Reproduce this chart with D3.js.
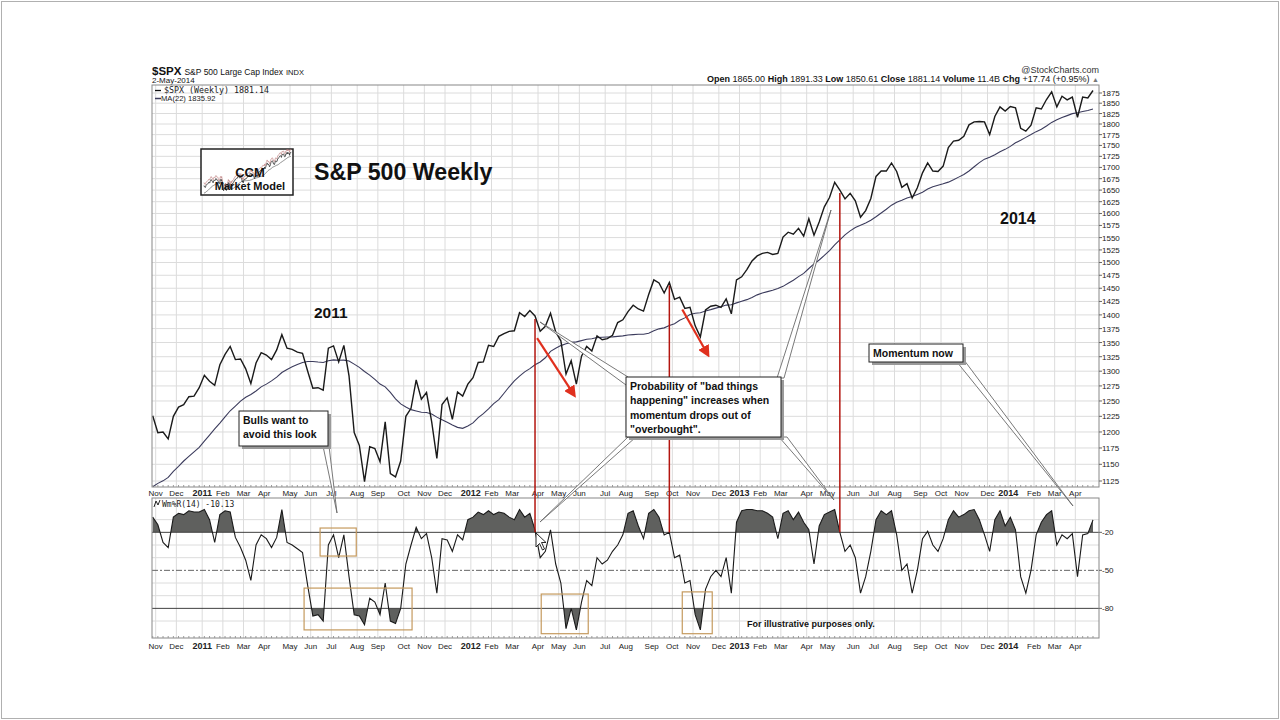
<!DOCTYPE html>
<html>
<head>
<meta charset="utf-8">
<script src="https://cdn.jsdelivr.net/npm/d3@7"></script>
<style>
  html, body { margin: 0; padding: 0; background: #fff; }
  svg { display: block; font-family: "Liberation Sans", Arial, sans-serif; }
</style>
</head>
<body>
<svg id="chart" width="1280" height="720"></svg>
<script>
// --- DATA (weekly, 5-Nov-2010 .. 2-May-2014) ---
const closes = [
  1226,1199,1200,1189,1225,1240,1244,1257,1258,1272,1293,1283,1276,1311,1329,1343,1320,1321,1304,1279,
  1314,1332,1328,1320,1337,1364,1340,1338,1333,1331,1300,1271,1272,1268,1340,1344,1316,1345,1292,1199,
  1179,1124,1177,1174,1154,1216,1136,1131,1155,1225,1238,1285,1253,1264,1216,1159,1244,1255,1220,1265,
  1258,1278,1289,1315,1316,1345,1343,1361,1366,1370,1371,1404,1397,1408,1398,1370,1379,1403,1369,1353,
  1295,1318,1278,1326,1343,1335,1362,1355,1357,1363,1386,1391,1406,1418,1411,1407,1438,1466,1460,1441,
  1461,1429,1433,1412,1414,1380,1360,1409,1416,1418,1414,1430,1402,1466,1472,1486,1503,1513,1518,1520,
  1516,1518,1551,1561,1557,1569,1553,1589,1555,1582,1614,1634,1667,1650,1631,1643,1627,1592,1606,1632,
  1680,1692,1692,1710,1691,1656,1664,1633,1655,1688,1710,1692,1691,1703,1745,1760,1762,1771,1798,1805,
  1806,1805,1775,1818,1841,1831,1842,1839,1790,1783,1797,1839,1836,1859,1878,1841,1867,1858,1865,1816,
  1865,1863,1881.14
];

const ma22 = [
  1116.6,1121.5,1125.2,1130.3,1139.5,1146.8,1155.0,1162.0,1169.0,1175.9,1185.6,1195.2,1204.8,1214.1,1224.1,1234.0,1241.7,1249.7,1256.0,1260.7,
  1266.6,1273.4,1278.0,1283.5,1289.8,1297.7,1303.0,1307.4,1311.5,1314.8,1316.7,1316.7,1315.7,1315.0,1318.0,1319.5,1318.9,1319.0,1317.7,1312.1,
  1306.5,1299.4,1293.2,1286.0,1278.1,1273.4,1264.2,1253.6,1245.2,1240.1,1235.8,1233.7,1231.5,1231.2,1228.7,1223.7,1219.4,1215.3,1211.0,1207.3,
  1205.8,1209.4,1214.4,1223.0,1229.4,1237.1,1245.7,1252.3,1262.8,1273.6,1283.5,1291.6,1298.8,1304.4,1311.0,1315.8,1323.2,1334.3,1340.0,1344.5,
  1347.9,1350.3,1351.2,1353.4,1355.8,1356.7,1358.8,1359.3,1359.9,1360.0,1360.9,1361.9,1363.5,1364.1,1364.7,1364.7,1366.5,1370.9,1374.5,1376.3,
  1380.5,1383.9,1390.2,1394.5,1400.6,1403.1,1403.9,1407.2,1409.7,1412.5,1415.1,1418.2,1418.9,1422.3,1425.3,1428.4,1432.6,1437.4,1441.0,1443.5,
  1446.0,1449.5,1453.6,1459.6,1465.3,1472.4,1478.7,1488.2,1497.1,1505.0,1514.0,1523.8,1535.3,1545.3,1555.7,1563.7,1570.8,1575.6,1580.3,1585.7,
  1593.0,1600.9,1608.9,1617.6,1624.0,1628.3,1633.1,1636.0,1640.7,1645.2,1652.2,1657.2,1660.7,1663.9,1667.4,1672.4,1678.4,1684.2,1692.0,1701.6,
  1710.7,1718.6,1722.9,1728.6,1735.4,1740.9,1747.8,1756.1,1761.8,1768.6,1775.1,1782.0,1787.7,1795.3,1803.8,1810.0,1815.6,1820.0,1824.7,1826.8,
  1829.8,1832.5,1835.92
];

const willR = [
  -8,-14,-28,-32,-8,-5,-6,-3,-4,-4,-2,-10,-28,-6,-3,-4,-24,-32,-42,-58,
  -30,-22,-25,-32,-24,-2,-28,-30,-33,-36,-62,-86,-85,-90,-30,-22,-40,-22,-55,-85,
  -86,-93,-72,-75,-85,-60,-90,-92,-80,-45,-30,-16,-25,-21,-40,-68,-25,-26,-35,-22,
  -26,-10,-8,-4,-6,-3,-6,-4,-5,-8,-10,-2,-8,-5,-18,-40,-35,-18,-45,-60,
  -96,-80,-97,-75,-58,-62,-40,-45,-42,-35,-30,-22,-5,-3,-15,-25,-5,-2,-8,-22,
  -20,-40,-38,-60,-58,-85,-97,-65,-55,-50,-55,-40,-68,-12,-3,-2,-2,-3,-3,-5,
  -8,-25,-5,-3,-10,-4,-12,-18,-45,-15,-6,-4,-2,-20,-35,-30,-40,-68,-55,-35,
  -10,-3,-6,-3,-22,-50,-45,-68,-50,-25,-19,-30,-35,-25,-10,-3,-8,-6,-3,-2,
  -10,-22,-35,-10,-3,-15,-8,-18,-55,-68,-50,-22,-12,-6,-3,-30,-22,-25,-21,-55,
  -22,-21,-10.13
];

const tickLabels = ["Nov","Dec","2011","Feb","Mar","Apr","May","Jun","Jul","Aug","Sep","Oct","Nov","Dec",
  "2012","Feb","Mar","Apr","May","Jun","Jul","Aug","Sep","Oct","Nov","Dec",
  "2013","Feb","Mar","Apr","May","Jun","Jul","Aug","Sep","Oct","Nov","Dec",
  "2014","Feb","Mar","Apr"];
const tickWeeks = [0,4,9,13,17,21,26,30,34,39,43,48,52,56,61,65,69,74,78,82,87,91,96,100,104,109,
  113,117,121,126,130,135,139,143,148,152,156,161,165,170,174,178];

const priceTicks = d3.range(1125, 1876, 25);
const wrTicks = [-20, -50, -80];

// weeks where %R fell out of overbought
const signalWeeks = [74, 100, 133];

// --- LAYOUT ---
const svg = d3.select("#chart");
const P = { left: 152, right: 1099, top: 85, bottom: 487 };
const L = { top: 498, bottom: 638 };

const x = d3.scaleLinear().domain([0, closes.length - 1]).range([152.7, 1093]);
const y = d3.scaleLog().domain([1125, 1875]).range([481, 93]);
const yr = d3.scaleLinear().domain([0, -100]).range([507, 633.7]);

const gridColor = "#dcdcdc";
const tickX = i => x(i) + 3;

// page frame
svg.append("rect").attr("x", 1.5).attr("y", 1.5).attr("width", 1277).attr("height", 717)
  .attr("fill", "#fff").attr("stroke", "#b0b0b0");

// --- HEADER ---
const head = svg.append("g").attr("fill", "#111");
head.append("text").attr("x", 152).attr("y", 75)
  .html('<tspan font-weight="bold" font-size="11.5">$SPX</tspan><tspan font-size="8.5" dx="3">S&amp;P 500 Large Cap Index</tspan><tspan font-size="7.5" dx="3">INDX</tspan>');
head.append("text").attr("x", 152).attr("y", 83).attr("font-size", 8).text("2-May-2014");
head.append("text").attr("x", 1099).attr("y", 73).attr("font-size", 9).attr("text-anchor", "end")
  .attr("fill", "#333").text("@StockCharts.com");
head.append("text").attr("x", 1099).attr("y", 82).attr("text-anchor", "end").attr("font-size", 9)
  .html('<tspan font-weight="bold">Open</tspan> 1865.00 <tspan font-weight="bold">High</tspan> 1891.33 ' +
        '<tspan font-weight="bold">Low</tspan> 1850.61 <tspan font-weight="bold">Close</tspan> 1881.14 ' +
        '<tspan font-weight="bold">Volume</tspan> 11.4B <tspan font-weight="bold">Chg</tspan> +17.74 (+0.95%) <tspan fill="#777" font-size="7">▲</tspan>');

// --- GRID ---
const grid = svg.append("g").attr("stroke", gridColor).attr("stroke-width", 1);
grid.selectAll(".vp").data(tickWeeks).join("line")
  .attr("x1", d => tickX(d)).attr("x2", d => tickX(d)).attr("y1", P.top).attr("y2", P.bottom);
grid.selectAll(".vl").data(tickWeeks).join("line")
  .attr("x1", d => tickX(d)).attr("x2", d => tickX(d)).attr("y1", L.top).attr("y2", L.bottom);
grid.selectAll(".hp").data(priceTicks).join("line")
  .attr("x1", P.left).attr("x2", P.right).attr("y1", d => y(d)).attr("y2", d => y(d));
grid.selectAll(".hl").data([-10, -30, -40, -60, -70, -90]).join("line")
  .attr("x1", P.left).attr("x2", P.right).attr("y1", d => yr(d)).attr("y2", d => yr(d));

// --- PRICE PANEL ---
svg.append("path").datum(ma22)
  .attr("d", d3.line().x((d, i) => x(i)).y(d => y(d)))
  .attr("fill", "none").attr("stroke", "#3b3b5c").attr("stroke-width", 1.1);
svg.append("path").datum(closes)
  .attr("d", d3.line().x((d, i) => x(i)).y(d => y(d)))
  .attr("fill", "none").attr("stroke", "#1a1a1a").attr("stroke-width", 1.4);

svg.append("rect").attr("x", P.left).attr("y", P.top).attr("width", P.right - P.left)
  .attr("height", P.bottom - P.top).attr("fill", "none").attr("stroke", "#888");

// right axis
const yAxis = svg.append("g").attr("font-size", 8).attr("fill", "#222");
yAxis.selectAll("line").data(priceTicks).join("line")
  .attr("x1", P.right).attr("x2", P.right + 3).attr("y1", d => y(d)).attr("y2", d => y(d)).attr("stroke", "#666");
yAxis.selectAll("text").data(priceTicks).join("text")
  .attr("x", P.right + 3).attr("y", d => y(d) + 3).text(d => d);

// legend
const leg = svg.append("g").attr("font-family", "'DejaVu Sans Mono', monospace").attr("font-size", 8.3).attr("fill", "#222");
leg.append("line").attr("x1", 155).attr("x2", 161).attr("y1", 90.5).attr("y2", 90.5).attr("stroke", "#111").attr("stroke-width", 1.3);
leg.append("text").attr("x", 164).attr("y", 93).text("$SPX (Weekly) 1881.14");
leg.append("line").attr("x1", 155).attr("x2", 161).attr("y1", 98.5).attr("y2", 98.5).attr("stroke", "#3b3b5c").attr("stroke-width", 1.5);
leg.append("text").attr("x", 161).attr("y", 101).attr("font-family", "'Liberation Sans', Arial").attr("font-size", 7.6).text("MA(22) 1835.92");

// --- WILLIAMS %R PANEL ---
const wr = svg.append("g");
const clipTop = svg.append("clipPath").attr("id", "clipTop");
clipTop.append("rect").attr("x", P.left).attr("y", L.top).attr("width", P.right - P.left).attr("height", yr(-20) - L.top);
const clipBot = svg.append("clipPath").attr("id", "clipBot");
clipBot.append("rect").attr("x", P.left).attr("y", yr(-80)).attr("width", P.right - P.left).attr("height", L.bottom - yr(-80));

wr.append("path").datum(willR).attr("clip-path", "url(#clipTop)")
  .attr("d", d3.area().x((d, i) => x(i)).y0(yr(-20)).y1(d => yr(d)))
  .attr("fill", "#5f605e");
wr.append("path").datum(willR).attr("clip-path", "url(#clipBot)")
  .attr("d", d3.area().x((d, i) => x(i)).y0(yr(-80)).y1(d => yr(d)))
  .attr("fill", "#5f605e");

wr.selectAll(".lvl").data(wrTicks).join("line")
  .attr("x1", P.left).attr("x2", P.right).attr("y1", d => yr(d)).attr("y2", d => yr(d))
  .attr("stroke", d => d === -50 ? "#555" : "#333").attr("stroke-width", 0.9)
  .attr("stroke-dasharray", d => d === -50 ? "6,2,2,2" : null);

wr.append("path").datum(willR)
  .attr("d", d3.line().x((d, i) => x(i)).y(d => yr(d)))
  .attr("fill", "none").attr("stroke", "#1a1a1a").attr("stroke-width", 1.1);

svg.append("rect").attr("x", P.left).attr("y", L.top).attr("width", P.right - P.left)
  .attr("height", L.bottom - L.top).attr("fill", "none").attr("stroke", "#888");

const wAxis = svg.append("g").attr("font-size", 8).attr("fill", "#222");
wAxis.selectAll("line").data(wrTicks).join("line")
  .attr("x1", P.right).attr("x2", P.right + 3).attr("y1", d => yr(d)).attr("y2", d => yr(d)).attr("stroke", "#666");
wAxis.selectAll("text").data(wrTicks).join("text")
  .attr("x", P.right + 3).attr("y", d => yr(d) + 3).text(d => d);

svg.append("text").attr("x", 162).attr("y", 507).attr("font-size", 8).attr("fill", "#222")
  .attr("font-family", "'DejaVu Sans Mono', monospace").text("Wm%R(14) -10.13");
svg.append("path").attr("d", "M154,507 L156,501 L158,505 L160,500").attr("fill", "none").attr("stroke", "#222");

// --- X AXIS LABELS (between panels and at bottom) ---
[496, 649].forEach(ty => {
  const g = svg.append("g").attr("font-size", 8).attr("fill", "#222").attr("text-anchor", "middle");
  g.selectAll("text").data(tickLabels).join("text")
    .attr("x", (d, i) => tickX(tickWeeks[i]))
    .attr("y", ty)
    .attr("font-weight", d => /^\d{4}$/.test(d) ? "bold" : null)
    .attr("font-size", d => /^\d{4}$/.test(d) ? 9 : 8)
    .text(d => d);
});
// weekly tick marks along frame bottoms
[P.bottom, L.bottom].forEach(by => {
  svg.append("g").selectAll("line").data(closes).join("line")
    .attr("x1", (d, i) => x(i)).attr("x2", (d, i) => x(i)).attr("y1", by - 2).attr("y2", by)
    .attr("stroke", "#999");
});

// --- ANNOTATIONS ---
const ann = svg.append("g");

// red signal lines
ann.selectAll(".sig").data(signalWeeks).join("line")
  .attr("x1", d => x(d)).attr("x2", d => x(d))
  .attr("y1", d => y(closes[d]) + 3).attr("y2", yr(-20))
  .attr("stroke", "#b3150f").attr("stroke-width", 1.5);

// red arrows (week, price)
const arrows = [[[74.4, 1358], [81.4, 1262]], [[102.5, 1410], [107.3, 1331]]];
const defs = svg.append("defs");
defs.append("marker").attr("id", "ah").attr("viewBox", "0 0 10 10").attr("refX", 6).attr("refY", 5)
  .attr("markerWidth", 5.5).attr("markerHeight", 5.5).attr("orient", "auto")
  .append("path").attr("d", "M0,0 L10,5 L0,10 Z").attr("fill", "#e0301e");
ann.selectAll(".arr").data(arrows).join("line")
  .attr("x1", d => x(d[0][0])).attr("y1", d => y(d[0][1]))
  .attr("x2", d => x(d[1][0])).attr("y2", d => y(d[1][1]))
  .attr("stroke", "#e0301e").attr("stroke-width", 2.2).attr("marker-end", "url(#ah)");

// tan highlight boxes (week range, %R range)
const boxes = [[32.4, 39.4, -16.6, -38.7], [29.3, 50.2, -64, -97], [75.2, 84.3, -68.7, -100], [102.5, 108.3, -67, -100]];
ann.selectAll(".box").data(boxes).join("rect")
  .attr("x", d => x(d[0])).attr("y", d => yr(d[2]))
  .attr("width", d => x(d[1]) - x(d[0])).attr("height", d => yr(d[3]) - yr(d[2]))
  .attr("fill", "none").attr("stroke", "#c59a5e").attr("stroke-width", 1.2);

// callout wedges: apex + two base points
const wedges = [
  [[337, 513], [323, 446], [329, 446]],
  [[540, 322], [628, 377], [626, 385]],
  [[540, 522], [628, 437], [636, 437]],
  [[831, 210], [777, 378], [784, 378]],
  [[834, 500], [779, 437], [787, 437]],
  [[1073, 506], [957, 362], [964, 360]]
];
ann.selectAll(".wedge").data(wedges).join("path")
  .attr("d", d => "M" + d[0] + "L" + d[1] + "L" + d[2] + "Z")
  .attr("fill", "#fff").attr("stroke", "#6a6a6a").attr("stroke-width", 0.9);

function callout(bx, by, bw, bh, lines, lh) {
  ann.append("rect").attr("x", bx + 3).attr("y", by + 3).attr("width", bw).attr("height", bh).attr("fill", "#9a9a9a");
  ann.append("rect").attr("x", bx).attr("y", by).attr("width", bw).attr("height", bh)
    .attr("fill", "#fff").attr("stroke", "#222").attr("stroke-width", 1);
  ann.append("g").attr("font-weight", "bold").attr("font-size", 10.5).attr("fill", "#111")
    .selectAll("text").data(lines).join("text")
    .attr("x", bx + 4).attr("y", (d, i) => by + 13 + i * lh).text(d => d);
}
callout(239, 411, 89, 35, ["Bulls want to", "avoid this look"], 14);
callout(626, 377, 155, 60, ["Probability of \"bad things", "happening\" increases when", "momentum drops out of", "\"overbought\"."], 14.3);
callout(869, 344, 94, 18, ["Momentum now"], 14);

// cursor
ann.append("path").attr("d", "M536,533 L536,547 L539.5,543.5 L542.5,550 L544.5,549 L541.5,542.5 L546,542.5 Z")
  .attr("fill", "#fff").attr("stroke", "#111").attr("stroke-width", 0.9);

// titles
svg.append("text").attr("x", 314).attr("y", 180).attr("font-size", 23.2).attr("font-weight", "bold").attr("fill", "#111").text("S&P 500 Weekly");
svg.append("text").attr("x", 314).attr("y", 318).attr("font-size", 15.5).attr("font-weight", "bold").attr("fill", "#111").text("2011");
svg.append("text").attr("x", 1000).attr("y", 224).attr("font-size", 16).attr("font-weight", "bold").attr("fill", "#111").text("2014");
svg.append("text").attr("x", 747).attr("y", 627).attr("font-size", 9).attr("font-weight", "bold").attr("fill", "#111").text("For illustrative purposes only.");

// --- LOGO ---
const logo = svg.append("g");
logo.append("rect").attr("x", 201).attr("y", 149).attr("width", 92).attr("height", 46)
  .attr("fill", "#fff").attr("stroke", "#222").attr("stroke-width", 1.5);
const lx = d3.scaleLinear().domain([0, closes.length - 1]).range([204, 291]);
const ly = d3.scaleLinear().domain([1100, 1900]).range([192, 151]);
logo.append("path").datum(ma22).attr("d", d3.line().x((d, i) => lx(i)).y(d => ly(d) + 2))
  .attr("fill", "none").attr("stroke", "#777").attr("stroke-width", 0.9);
logo.append("path").datum(closes).attr("d", d3.line().x((d, i) => lx(i)).y(d => ly(d)))
  .attr("fill", "none").attr("stroke", "#333").attr("stroke-width", 0.8);
logo.append("path").datum(closes).attr("d", d3.line().x((d, i) => lx(i)).y(d => ly(d) - 3))
  .attr("fill", "none").attr("stroke", "#b77").attr("stroke-width", 0.6);
logo.append("text").attr("x", 250).attr("y", 177).attr("text-anchor", "middle").attr("font-size", 13)
  .attr("font-weight", "bold").attr("fill", "#111").text("CCM");
logo.append("text").attr("x", 250).attr("y", 190).attr("text-anchor", "middle").attr("font-size", 11)
  .attr("font-weight", "bold").attr("fill", "#111").text("Market Model");
</script>
</body>
</html>
